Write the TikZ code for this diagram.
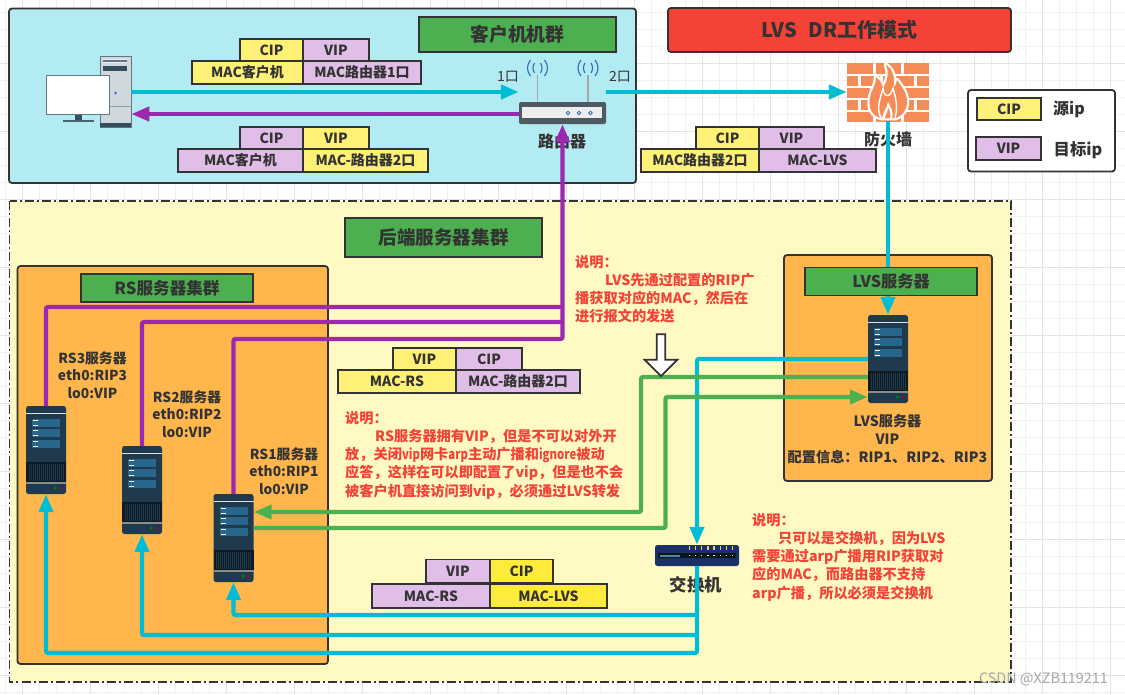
\documentclass[tikz,border=0pt]{standalone}
\usepackage{fontspec}
\setmainfont{Noto Sans CJK SC}
\usetikzlibrary{arrows.meta, shapes.arrows}
\definecolor{inkdark}{HTML}{333333}
\definecolor{noteRed}{HTML}{F44336}
\definecolor{ipYellow}{HTML}{FFF176}
\definecolor{ipYellowB}{HTML}{FFEB3B}
\definecolor{ipPurple}{HTML}{E1BEE7}
\definecolor{clientBlue}{HTML}{B2EBF2}
\definecolor{backYellow}{HTML}{FFF9C4}
\definecolor{rsOrange}{HTML}{FFB74D}
\definecolor{titleGreen}{HTML}{4CAF50}
\definecolor{lineCyan}{HTML}{00BCD4}
\definecolor{linePurple}{HTML}{9C27B0}
\definecolor{brick}{HTML}{F58B56}
\definecolor{srvDark}{HTML}{1E3A4C}
\definecolor{srvBlue}{HTML}{29668C}
\definecolor{towerGray}{HTML}{CFD8DC}
\definecolor{waveBlue}{HTML}{2F6DB5}
\newcommand{\squeezed}[1]{\scalebox{0.8}[1]{#1}}
\tikzset{
    txt/.style={text=inkdark, font=\bfseries\fontsize{14}{16}\selectfont, inner sep=0pt},
    frame/.style={draw=inkdark, line width=1.8pt, rounded corners=3pt},
    titlebox/.style={draw=inkdark, line width=1.8pt, fill=titleGreen, txt, inner sep=0pt},
    cell/.style={draw=inkdark, line width=1.8pt, txt, inner sep=0pt},
    note/.style={text=noteRed, font=\bfseries\fontsize{14.2}{18.2}\selectfont, align=left, anchor=north west, inner sep=0pt},
    lbl/.style={txt, align=center, font=\bfseries\fontsize{13.8}{17.8}\selectfont},
    wire/.style={line width=4.2pt, rounded corners=2pt, -{Triangle[length=18pt,width=14pt]}},
    cyanwire/.style={wire, draw=lineCyan},
    purplewire/.style={wire, draw=linePurple},
    greenwire/.style={wire, draw=titleGreen},
    serverbody/.style={fill=srvDark, rounded corners=2.5pt, minimum width=40pt, minimum height=88pt, inner sep=0pt},
    serverface/.pic={
        \draw[white!85!srvDark, line width=0.9pt] (-20,-37) -- (20,-37);
        \foreach \r in {-31,-21,-10}{
            \fill[srvBlue] (-14,\r) rectangle (14,\r+3.6);
            \fill[srvBlue] (-14,\r+4.4) rectangle (14,\r+8);
            \draw[white, line width=0.8pt] (-13,\r+1.8) -- (-8,\r+1.8);
            \draw[white, line width=0.8pt] (-13,\r+6.2) -- (-8,\r+6.2);
        }
        \fill[black!55!srvDark] (-20,12) rectangle (20,32);
        \foreach \g in {-17,-15,...,17}{
            \draw[srvDark, line width=0.6pt] (\g,14) -- (\g,31);
        }
        \fill[gray!90!white] (-20,32) rectangle (20,34);
        \fill[green!55!black] (9.5,38) circle (1.5);
        \fill[purple!85!black] (15,38) circle (1.5);
    }
}

\begin{document}
\begin{tikzpicture}[x=1pt, y=-1pt]
        \useasboundingbox (0,0) rectangle (1125,694);
        %Grid
        \fill[white] (0,0) rectangle (1125,694);
        \foreach \k in {0,...,66}{
            \draw[black!6, line width=0.8pt] ({1042.7-61*17+\k*17},0) -- ++(0,694);
        }
        \foreach \k in {0,...,41}{
            \draw[black!6, line width=0.8pt] (0,{12+\k*17}) -- ++(1125,0);
        }
        \foreach \k in {0,...,16}{
            \draw[black!11, line width=0.8pt] ({1042.7-15*68+\k*68},0) -- ++(0,694);
        }
        \foreach \k in {0,...,10}{
            \draw[black!11, line width=0.8pt] (0,{63+\k*68}) -- ++(1125,0);
        }

        %Frames
        \draw[frame, fill=clientBlue] (9,8.5) rectangle (636,183);
        \draw[inkdark, line width=1.8pt, fill=backYellow, dash pattern=on 9pt off 3pt on 2pt off 3pt] (9.5,201) rectangle (1011,682);
        \draw[frame, fill=rsOrange] (17.5,266) rectangle (328,664);
        \draw[frame, fill=rsOrange] (784,255) rectangle (992,481);
        \draw[frame, fill=white] (968,90) rectangle (1115,171.5);

        %Titles
        \node[titlebox, minimum width=197pt, minimum height=35pt, font=\bfseries\fontsize{18.8}{20}\selectfont] (clientTitle) at (517.5,34.5) {客户机机群};
        \node[frame, fill=noteRed, txt, minimum width=343pt, minimum height=44pt, font=\bfseries\fontsize{20}{22}\selectfont] (modeTitle) at (839.5,30) {LVS\hspace{0.6em}DR工作模式};
        \node[titlebox, minimum width=197pt, minimum height=39pt, font=\bfseries\fontsize{18.6}{20}\selectfont] (backTitle) at (443.5,237.5) {后端服务器集群};
        \node[titlebox, minimum width=172pt, minimum height=28pt, font=\bfseries\fontsize{16.6}{18}\selectfont] (rsTitle) at (167,288) {RS服务器集群};

        %Packet headers
        \foreach \n/\cx/\cy/\w/\h/\c/\t in {
            a1/271.5/50/63/22/ipYellow/CIP, a2/336/50/66/22/ipPurple/VIP,
            a3/247.5/72.5/111/23/ipYellow/MAC客户机, a4/362/72.5/118/23/ipPurple/MAC路由器1口,
            b1/271.5/138/63/22/ipPurple/CIP, b2/336/138/66/22/ipYellow/VIP,
            b3/240.5/160.5/125/23/ipPurple/MAC客户机, b4/365.5/160.5/125/23/ipYellow/MAC-路由器2口,
            c1/727.5/138/63/22/ipYellow/CIP, c2/791.5/138/65/22/ipPurple/VIP,
            c3/700/160.5/118/23/ipYellow/MAC路由器2口, c4/817.5/160.5/117/23/ipPurple/MAC-LVS,
            d1/424.5/359/63/22/ipYellow/VIP, d2/489/359/66/22/ipPurple/CIP,
            d3/397/381.5/118/23/ipYellow/MAC-RS, d4/518/381.5/124/23/ipPurple/MAC-路由器2口,
            e1/458/571/64/23/ipPurple/VIP, e2/521.5/571/63/23/ipYellowB/CIP,
            e3/431/596/118/24/ipPurple/MAC-RS, e4/548.5/596/117/24/ipYellowB/MAC-LVS,
            keyA/1009/109/64/22/ipYellow/CIP, keyB/1008.5/148.5/65/23/ipPurple/VIP}{
            \node[cell, fill=\c, minimum width=\w pt, minimum height=\h pt] (\n) at (\cx,\cy) {\t};
        }
        \node[txt, font=\bfseries\fontsize{16}{18}\selectfont] (keySrc) at (1069,109) {源ip};
        \node[txt, font=\bfseries\fontsize{16.3}{18}\selectfont] (keyDst) at (1078,150) {目标ip};

        %Client PC
        \node[fill=towerGray, draw=srvDark!70, line width=0.8pt, minimum width=31pt, minimum height=71pt, inner sep=0pt] (pc) at (115.5,91.5) {};
        \fill[srvDark!90] (100,122.5) rectangle (131,127);
        \fill[white!60!towerGray] (103,59) rectangle (127,63);
        \draw[srvDark!70, line width=1.2pt] (103,61) -- (127,61);
        \fill[srvDark!90] (103,65.5) rectangle (127,71);
        \draw[srvDark!50, line width=0.5pt] (100,106) -- (131,106);
        \fill[blue!70!white] (115.5,93) circle (1.3);
        \fill[srvDark!90] (75,114) rectangle (82,120);
        \fill[srvDark!80] (63,120) rectangle (94,122);
        \node[fill=white, draw=srvDark!70, line width=1pt, minimum width=63pt, minimum height=39pt, inner sep=0pt] (monitor) at (78,94.5) {};

        %Router
        \foreach \ax in {537.5,588}{
            \draw[gray!70, line width=1.2pt] (\ax,75) -- (\ax,102);
            \draw[waveBlue, line width=1.1pt] (\ax-7,60) .. controls (\ax-11,65) and (\ax-11,71) .. (\ax-7,76);
            \draw[waveBlue, line width=1.1pt] (\ax+7,60) .. controls (\ax+11,65) and (\ax+11,71) .. (\ax+7,76);
            \draw[waveBlue, line width=1.1pt] (\ax-3,63) .. controls (\ax-5,66) and (\ax-5,70) .. (\ax-3,73);
            \draw[waveBlue, line width=1.1pt] (\ax+3,63) .. controls (\ax+5,66) and (\ax+5,70) .. (\ax+3,73);
        }
        \node[fill=srvDark!60!black!75, rounded corners=2pt, minimum width=87pt, minimum height=22pt, inner sep=0pt] (router) at (562.5,113) {};
        \fill[black!7] (522,107) rectangle (602,118);
        \foreach \dx in {568,579,590.5}{
            \draw[waveBlue, line width=0.9pt, fill=white] (\dx,113) circle (1.7);
        }
        \node[txt, font=\bfseries\fontsize{16}{19}\selectfont] (routerLbl) at (562,141) {路由器};
        \node[txt, font=\fontsize{14}{16}\selectfont] (portA) at (508,77) {1口};
        \node[txt, font=\fontsize{14}{16}\selectfont] (portB) at (620,77) {2口};

        %Firewall
        \node[minimum width=82pt, minimum height=58pt, inner sep=0pt] (firewall) at (888,92) {};
        \foreach \y/\h/\xs in {63/10.5/{847/872.5,875.5/901,903.5/929},
                76/10/{847/858,861/880,883/893,896/914,917/929},
                88/10/{847/870,873/900,903/929},
                100/9.5/{847/858,861/880,883/893,896/914,917/929},
                112/9.5/{847/872.5,875.5/901,903.5/929}}{
            \foreach \xa/\xb in \xs{
                \fill[brick] (\xa,\y) rectangle (\xb,\y+\h);
            }
        }
        \draw[white, line width=4.5pt, line join=round, fill=white] (881,118) .. controls (872,116) and (868,108) .. (870,98) .. controls (871,90) and (876,86) .. (876,77) .. controls (880,80) and (882,84) .. (883,88) .. controls (888,80) and (889,72) .. (886,65) .. controls (892,68) and (896,78) .. (893,88) .. controls (895,86) and (897,83) .. (897,80) .. controls (901,86) and (907,92) .. (907,102) .. controls (907,110) and (902,116) .. (896,118) -- cycle;
        \fill[brick] (881,118) .. controls (872,116) and (868,108) .. (870,98) .. controls (871,90) and (876,86) .. (876,77) .. controls (880,80) and (882,84) .. (883,88) .. controls (888,80) and (889,72) .. (886,65) .. controls (892,68) and (896,78) .. (893,88) .. controls (895,86) and (897,83) .. (897,80) .. controls (901,86) and (907,92) .. (907,102) .. controls (907,110) and (902,116) .. (896,118) -- cycle;
        \draw[white, line width=1.4pt, line join=round] (881,118) .. controls (876,108) and (880,100) .. (883,88) .. controls (883,96) and (890,100) .. (893,88) .. controls (896,98) and (898,108) .. (895,118);
        \fill[white] (882,118) .. controls (884,110) and (887,108) .. (888,102) .. controls (891,108) and (894,112) .. (892,118) -- cycle;
        \fill[brick] (885,118) .. controls (886,113) and (888,112) .. (888.5,108) .. controls (890,112) and (891,114) .. (890,118) -- cycle;
        \node[txt, font=\bfseries\fontsize{16}{19}\selectfont] (firewallLbl) at (888,139) {防火墙};

        %Servers
        \foreach \n/\cx/\cy in {rs3/46/450, rs2/142/490, rs1/233.5/538, lvs/888/359}{
            \node[serverbody] (\n) at (\cx,\cy) {};
            \pic at (\n) {serverface};
        }
        \node[lbl] (rs3Lbl) at (92.5,375) {RS3服务器\\eth0:RIP3\\lo0:VIP};
        \node[lbl] (rs2Lbl) at (187,414) {RS2服务器\\eth0:RIP2\\lo0:VIP};
        \node[lbl] (rs1Lbl) at (284,471) {RS1服务器\\eth0:RIP1\\lo0:VIP};
        \node[lbl, font=\bfseries\fontsize{14.2}{17.8}\selectfont] (lvsLbl) at (887.5,439) {LVS服务器\\VIP\\配置信息：RIP1、RIP2、RIP3};

        %Switch
        \node[fill=srvDark!85!blue, rounded corners=2.5pt, minimum width=84pt, minimum height=21pt, inner sep=0pt] (switch) at (697,555.5) {};
        \fill[black!65!srvDark] (658,553) rectangle (736,558);
        \fill[srvBlue!80!white] (660,554.5) rectangle (680,556.5);
        \foreach \k in {0,...,7}{
            \fill[orange!50!white] ({689+\k*6.1},546) rectangle ++(1.2,4);
            \fill[white!85!gray] ({689+\k*6.1},555) rectangle ++(1.2,1.2);
        }
        \node[txt, font=\bfseries\fontsize{17.4}{19}\selectfont] (switchLbl) at (696,585) {交换机};

        %Notes
        \node[note] (noteA) at (575,255) {说明：\\\hspace*{30pt}LVS先通过配置的RIP广\\播获取对应的MAC，然后在\\进行报文的发送};
        \node[note] (noteB) at (345,411) {说明：\\\hspace*{30pt}RS服务器拥有VIP，但是不可以对外开\\放，关闭\squeezed{vip}网卡\squeezed{arp}主动广播和\squeezed{ignore}被动\\应答，这样在可以即配置了vip，但是也不会\\被客户机直接访问到vip，必须通过LVS转发};
        \node[note] (noteC) at (752,513) {说明：\\\hspace*{26pt}只可以是交换机，因为LVS\\需要通过arp广播用RIP获取对\\应的MAC，而路由器不支持\\arp广播，所以必须是交换机};

        %Extra coordinates for path
        \coordinate (pRail) at (562.5,339);
        \coordinate (pRailB) at (562.5,322);
        \coordinate (pRailC) at (562.5,307);
        \coordinate (cBus) at (697,359);
        \coordinate (cBusA) at (697,615);
        \coordinate (cBusB) at (697,635);
        \coordinate (cBusC) at (697,653);
        \coordinate (gA) at (641,377);
        \coordinate (gB) at (641,512);
        \coordinate (gC) at (665.5,528);
        \coordinate (gD) at (665.5,397);

        %Paths (top to bottom)
        \draw[cyanwire] (pc.east |- 0,92) -- (router.west |- 0,92);
        \draw[purplewire] (router.west |- 0,114) -- (pc.east |- 0,114);
        \draw[cyanwire] (router.east |- 0,92) -- (firewall.west |- 0,92);
        \draw[cyanwire] (firewall.south -| lvs.north) -- (lvs.north);
        \draw[purplewire] (rs1.north) |- (pRail) -- (router.south);
        \draw[purplewire, -] (rs2.north) |- (pRailB);
        \draw[purplewire, -] (rs3.north) |- (pRailC);
        \draw[cyanwire] (lvs.west |- cBus) -- (cBus) -- (switch.north);
        \draw[cyanwire] (switch.south) -- (cBusA) -- (cBusA -| rs1) -- (rs1.south);
        \draw[cyanwire] (cBusA) -- (cBusB) -- (cBusB -| rs2) -- (rs2.south);
        \draw[cyanwire] (cBusB) -- (cBusC) -- (cBusC -| rs3) -- (rs3.south);
        \draw[greenwire] (lvs.west |- gA) -- (gA) -- (gB) -- (rs1.east |- gB);
        \draw[greenwire] (rs1.east |- gC) -- (gC) -- (gD) -- (lvs.west |- gD);

        %Covers the firewall line
        \node[titlebox, minimum width=172pt, minimum height=28pt, font=\bfseries\fontsize{16.2}{18}\selectfont] (lvsTitle) at (891,281.5) {LVS服务器};

        %Hollow arrow
        \node[shape=single arrow, shape border rotate=270, draw=inkdark, fill=white, line width=1.8pt, minimum width=33pt, minimum height=42pt, single arrow head extend=11pt, single arrow tip angle=90, single arrow head indent=0pt, inner sep=0pt, text width=6pt] (hollow) at (661,353) {};

        %Watermark
        \node[text=gray!70, font=\fontsize{14.4}{16}\selectfont, inner sep=0pt] (mark) at (1043.5,679) {CSDN @XZB119211};
\end{tikzpicture}
\end{document}
